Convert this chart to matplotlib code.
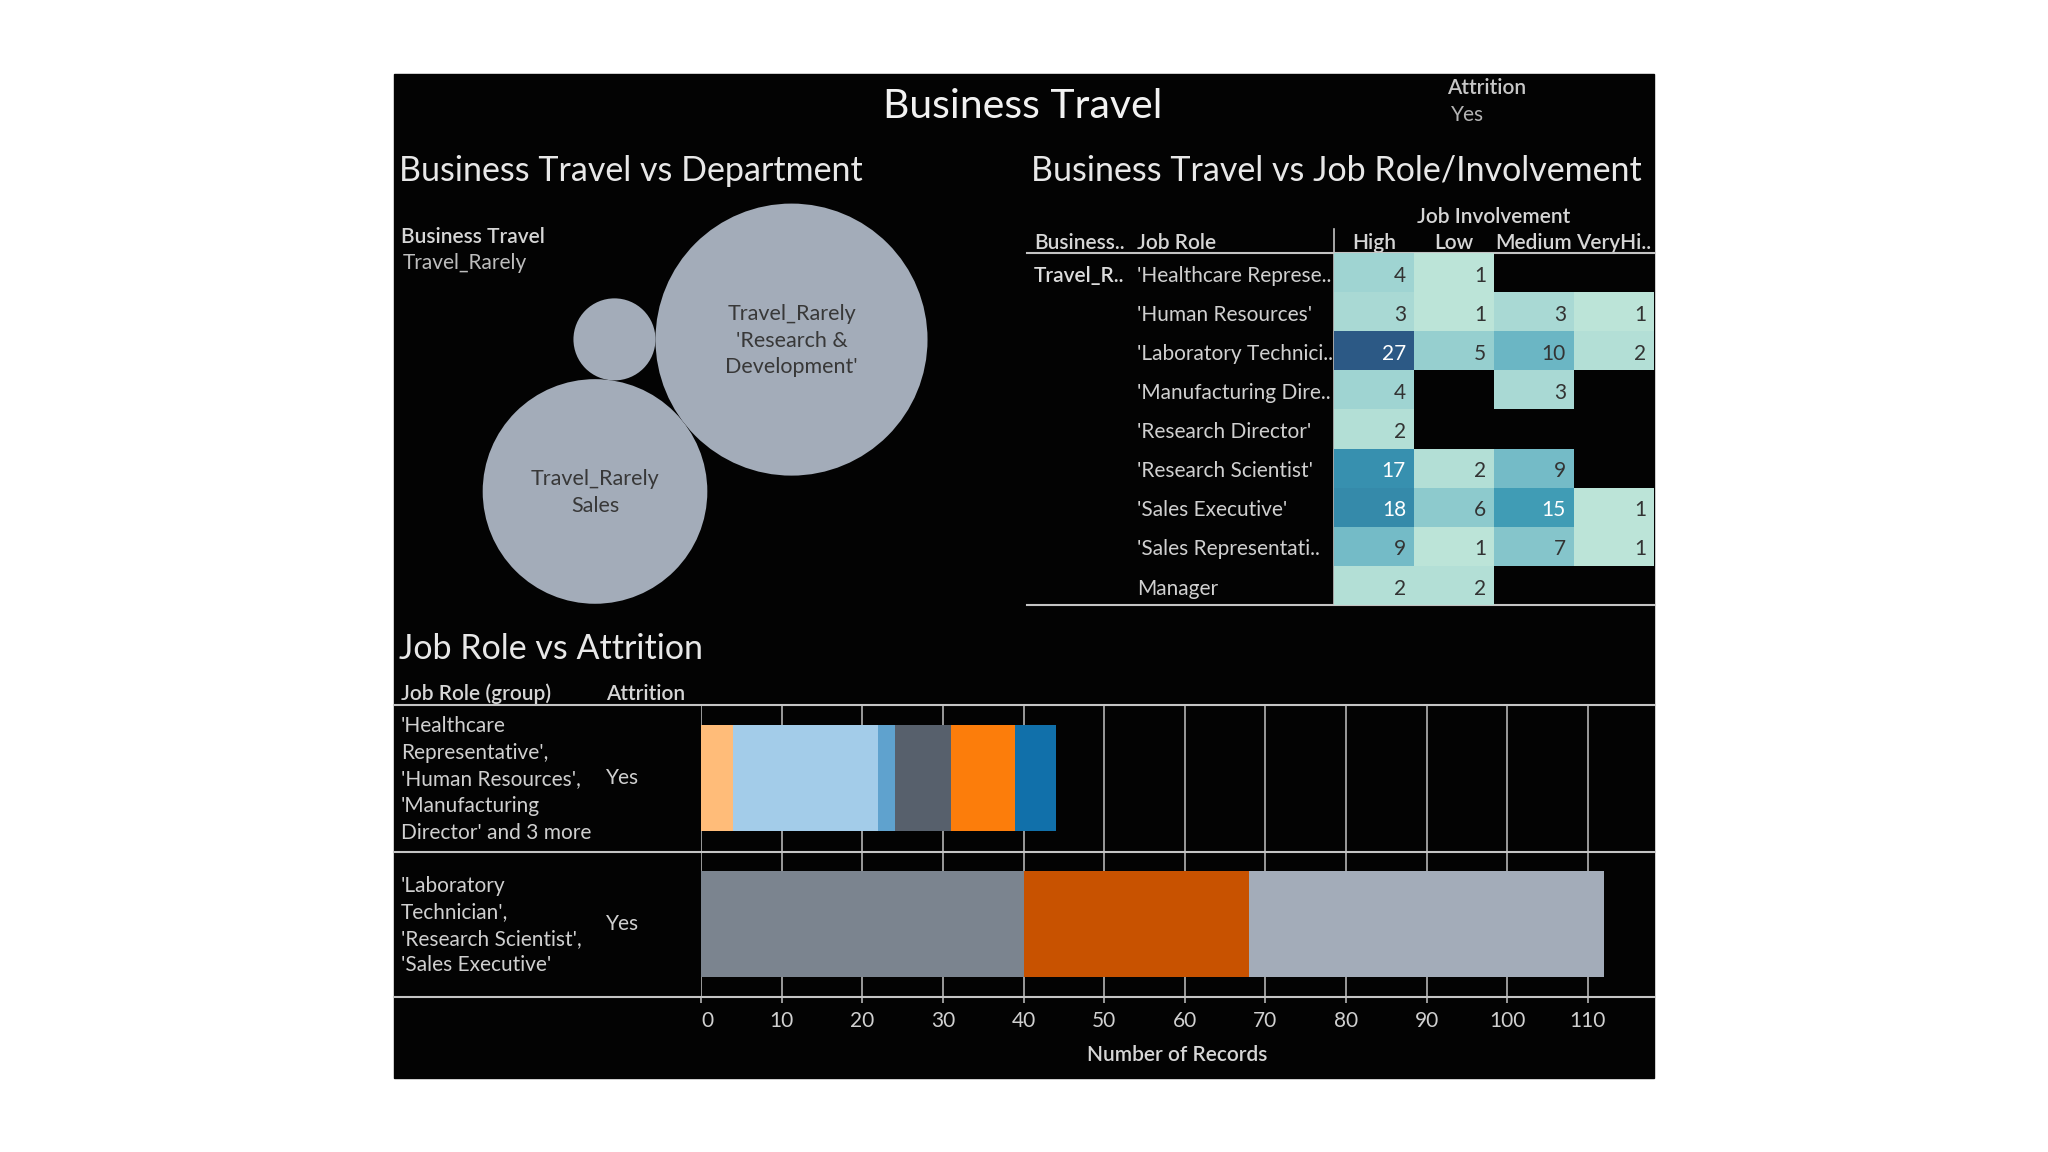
import numpy as np
import matplotlib
matplotlib.use("Agg")
import matplotlib.pyplot as plt
from matplotlib.colors import LinearSegmentedColormap, Normalize
from matplotlib.patches import Rectangle, Circle
from matplotlib.transforms import blended_transform_factory

plt.rcParams['font.family'] = ['Lato', 'DejaVu Sans']

nan = np.nan
# ---------------- data ----------------
dept_names = ["'Research & Development'", "Sales", "'Human Resources'"]
dept_labels = ["Travel_Rarely\n'Research &\nDevelopment'", "Travel_Rarely\nSales", ""]
dept_counts = [88, 60, 8]

job_role_labels = ["'Healthcare Represe..", "'Human Resources'", "'Laboratory Technici..",
                   "'Manufacturing Dire..", "'Research Director'", "'Research Scientist'",
                   "'Sales Executive'", "'Sales Representati..", "Manager"]
involvement_labels = ["High", "Low", "Medium", "VeryHi.."]
inv_high = [4, 3, 27, 4, 2, 17, 18, 9, 2]
inv_low = [1, 1, 5, nan, nan, 2, 6, 1, 2]
inv_medium = [nan, 3, 10, 3, nan, 9, 15, 7, nan]
inv_very_high = [nan, 1, 2, nan, nan, nan, 1, 1, nan]

role_colors = ['#1170aa', '#fc7d0b', '#a3acb9', '#57606c', '#5fa2ce',
               '#c85200', '#7b848f', '#a3cce9', '#ffbc79']
group_labels = ["'Healthcare\nRepresentative',\n'Human Resources',\n'Manufacturing\nDirector' and 3 more",
                "'Laboratory\nTechnician',\n'Research Scientist',\n'Sales Executive'"]
group_members = [[0, 1, 3, 4, 7, 8], [2, 5, 6]]
attrition_value = "Yes"
x_ticks = list(range(0, 111, 10))

blue_teal = ["#bce4d8", "#aedcd5", "#a1d5d2", "#95cecf", "#89c8cc", "#7ec1ca", "#72bac6",
             "#66b2c2", "#59acbe", "#4ba5ba", "#419eb6", "#3b96b2", "#358ead", "#3586a7",
             "#347ea1", "#32779b", "#316f96", "#2f6790", "#2d608a", "#2c5985"]

# ---------------- figure ----------------
W, H = 2048, 1152
fig = plt.figure(figsize=(W / 100, H / 100), dpi=100, facecolor='white')


def px_axes(x0, y0, x1, y1, **kw):
    return fig.add_axes([x0 / W, 1 - y1 / H, (x1 - x0) / W, (y1 - y0) / H], **kw)


ax0 = px_axes(0, 0, W, H)
ax0.set_xlim(0, W)
ax0.set_ylim(H, 0)
ax0.axis('off')
ax0.add_patch(Rectangle((394, 74), 1260, 1004, color='#030303', zorder=0))

TXT = '#e8e8e8'
LBL = '#d0d0d0'
HDR = '#d6d6d6'
GRID = '#c4c4c4'
FS = 15

# titles
ax0.text(1023, 106, "Business Travel", color='#f2f2f2', fontsize=29.5, ha='center', va='center')
ax0.text(1447, 88, "Attrition", color='#c8c8c8', fontsize=15, ha='left', va='center', fontweight='semibold')
ax0.text(1451, 115, attrition_value, color='#b4b4b4', fontsize=15, ha='left', va='center')
ax0.text(399, 171, "Business Travel vs Department", color=TXT, fontsize=24.5, ha='left', va='center')
ax0.text(1031, 171, "Business Travel vs Job Role/Involvement", color=TXT, fontsize=24.5, ha='left', va='center')
ax0.text(399, 649, "Job Role vs Attrition", color=TXT, fontsize=24.5, ha='left', va='center')

# ---------------- bubbles ----------------
ax0.text(401, 237, "Business Travel", color=HDR, fontsize=FS, ha='left', va='center', fontweight='semibold')
ax0.text(403, 263, "Travel_Rarely", color='#bdbdbd', fontsize=FS, ha='left', va='center')

k = 14.5
radii = [k * np.sqrt(v) for v in dept_counts]
c1 = np.array([791.5, 339.6])
theta = np.deg2rad(142.3)
d12 = radii[0] + radii[1]
d13 = radii[0] + radii[2]
d23 = radii[1] + radii[2]
c2 = c1 + d12 * np.array([np.cos(theta), np.sin(theta)])
alpha = np.arccos((d12 ** 2 + d13 ** 2 - d23 ** 2) / (2 * d12 * d13))
c3 = c1 + d13 * np.array([np.cos(theta + alpha), np.sin(theta + alpha)])
for c, r, lab in zip([c1, c2, c3], radii, dept_labels):
    ax0.add_patch(Circle(tuple(c), r, color='#a3acb9', zorder=2, lw=0))
    if lab:
        ax0.text(c[0], c[1] + 1, lab, color='#383838', fontsize=15.5, ha='center', va='center',
                 linespacing=1.4, zorder=3)

# ---------------- heatmap ----------------
hm = px_axes(1334, 253, 1654, 605)
mat = np.array([inv_high, inv_low, inv_medium, inv_very_high], dtype=float).T
cmap = LinearSegmentedColormap.from_list('blueteal', blue_teal)
norm = Normalize(vmin=1, vmax=27)
hm.pcolormesh(np.arange(5), np.arange(10), np.ma.masked_invalid(mat), cmap=cmap, norm=norm)
hm.set_xlim(0, 4)
hm.set_ylim(9, 0)
hm.set_facecolor('#030303')
hm.axis('off')
for i in range(mat.shape[0]):
    for j in range(mat.shape[1]):
        v = mat[i, j]
        if np.isnan(v):
            continue
        hm.text(j + 1 - 0.1, i + 0.58, f"{int(v)}", ha='right', va='center', fontsize=FS,
                color='white' if v >= 14 else '#333333')

tr_rows = blended_transform_factory(ax0.transData, hm.transData)
for i, lab in enumerate(job_role_labels):
    ax0.text(1137, i + 0.58, lab, transform=tr_rows, color=LBL, fontsize=FS, ha='left', va='center')
ax0.text(1034, 0.58, "Travel_R..", transform=tr_rows, color='#dcdcdc', fontsize=FS, ha='left',
         va='center', fontweight='semibold')

tr_cols = blended_transform_factory(hm.transData, ax0.transData)
for j, lab in enumerate(involvement_labels):
    ax0.text(j + 0.5, 243, lab, transform=tr_cols, color=HDR, fontsize=FS, ha='center',
             va='center', fontweight='semibold')
ax0.text(2.0, 217, "Job Involvement", transform=tr_cols, color=HDR, fontsize=FS, ha='center',
         va='center', fontweight='semibold')
ax0.text(1034, 243, "Business..", color=HDR, fontsize=FS, ha='left', va='center', fontweight='semibold')
ax0.text(1137, 243, "Job Role", color=HDR, fontsize=FS, ha='left', va='center', fontweight='semibold')

ax0.plot([1027, 1654], [253, 253], color=GRID, lw=1.5, zorder=3)
ax0.plot([1027, 1654], [605, 605], color=GRID, lw=1.5, zorder=3)
ax0.plot([1334, 1334], [229, 605], color=GRID, lw=1.2, zorder=3)

# ---------------- stacked bar ----------------
bx = px_axes(701, 705, 1654, 997)
bx.set_facecolor('none')
row_totals = np.nansum(mat, axis=1)
for gi, members in enumerate(group_members):
    left = 0
    for m in reversed(members):
        bx.barh(gi, row_totals[m], left=left, height=0.73, color=role_colors[m], lw=0, zorder=3)
        left += row_totals[m]
bx.set_xlim(0, 118.2)
bx.set_ylim(1.5, -0.5)
bx.set_xticks(x_ticks)
bx.set_xticklabels([str(t) for t in x_ticks])
bx.get_xticklabels()[0].set_horizontalalignment('left')
bx.set_yticks([])
bx.grid(axis='x', color=GRID, lw=1.1, zorder=1)
for s in bx.spines.values():
    s.set_visible(False)
bx.tick_params(axis='x', colors=GRID, length=4, width=1.1, pad=6, labelsize=FS, labelcolor='#d0d0d0')
bx.set_xlabel("Number of Records", color=HDR, fontsize=FS, fontweight='semibold')
bx.xaxis.set_label_coords(0.5, -(1055 - 997) / 292)
bx.xaxis.label.set_va('center')

for yy in [705, 852, 997]:
    ax0.plot([394, 1654], [yy, yy], color=GRID, lw=1.5, zorder=3)

ax0.text(401, 694, "Job Role (group)", color=HDR, fontsize=FS, ha='left', va='center', fontweight='semibold')
ax0.text(606, 694, "Attrition", color=HDR, fontsize=FS, ha='left', va='center', fontweight='semibold')

tr_bar = blended_transform_factory(ax0.transData, bx.transData)
for gi, lab in enumerate(group_labels):
    ax0.text(401, gi + 0.01, lab, transform=tr_bar, color=LBL, fontsize=FS, ha='left', va='center', linespacing=1.41)
    ax0.text(606, gi, attrition_value, transform=tr_bar, color=LBL, fontsize=FS, ha='left', va='center')

fig.savefig("out.png", dpi=100, facecolor='white')
